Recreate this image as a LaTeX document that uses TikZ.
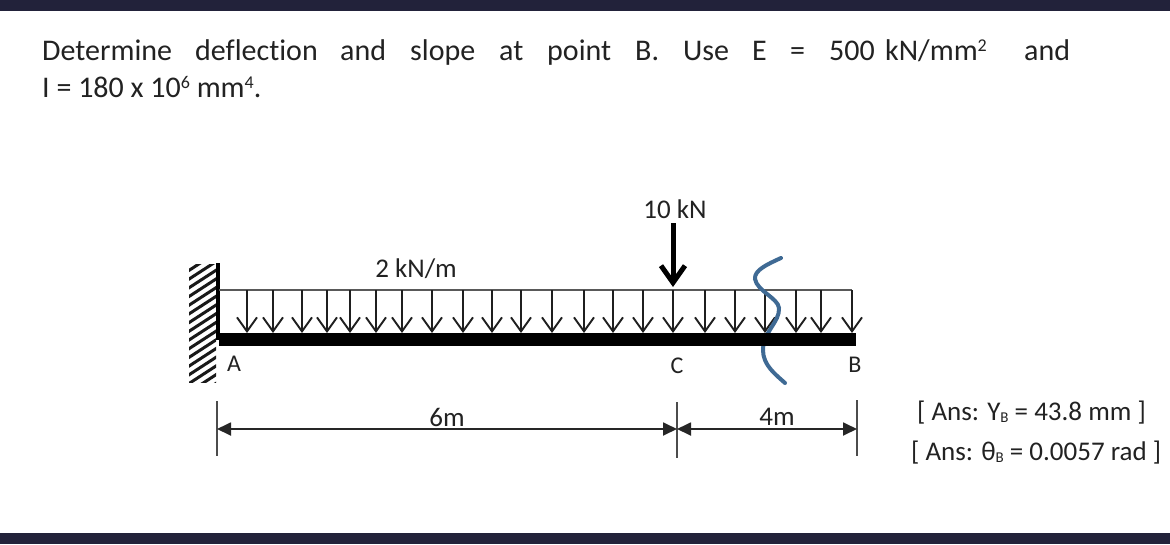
\documentclass[tikz,border=0pt]{standalone}
\usepackage{fontspec}
\setmainfont[Ligatures=NoCommon]{Carlito}
\usetikzlibrary{arrows.meta}
\definecolor{barc}{HTML}{22223A}
\definecolor{txt}{HTML}{222222}
\definecolor{cutc}{HTML}{3F6A94}
\tikzset{
 lbl/.style={inner sep=0pt,text=txt,font=\fontsize{27}{27}\selectfont},
 body/.style={inner sep=0pt,text=txt,font=\fontsize{30}{30}\selectfont},
 pts/.style={inner sep=0pt,text=txt,font=\fontsize{24}{24}\selectfont},
 udl/.style={draw=black!88,line width=1.7pt,-{Straight Barb[length=14pt,width=20pt,line width=1.9pt]}},
 dim/.style={draw=black!85,line width=1.8pt,{Triangle[length=14pt,width=13pt]}-{Triangle[length=14pt,width=13pt]}},
 ext/.style={draw=black!70,line width=1.6pt}
}
\newcommand{\sbs}[1]{{\fontsize{15}{15}\selectfont\raisebox{-2pt}{#1}}}
\newcommand{\sps}[1]{{\fontsize{18}{18}\selectfont\raisebox{9pt}{#1}}}
\begin{document}
\begin{tikzpicture}[x=1pt,y=-1pt]
\useasboundingbox (0,0) rectangle (1170,544);
\fill[white] (0,0) rectangle (1170,544);
\fill[barc] (0,0) rectangle (1170,11);
\fill[barc] (0,533) rectangle (1170,544);
% problem text
\foreach \t/\x in {Determine/42,deflection/195,and/340,slope/410,at/499,point/547,B./635,Use/683,E/752,=/790,500/829}
  \node[body,anchor=base west] at (\x,60) {\t};
\node[body,anchor=base west] (km) at (885,60) {kN/mm\sps{2}};
\node[body,anchor=base west] (andw) at (1024,60) {and};
\node[body,anchor=base west] (line2) at (42,97) {I = 180 x 10\sps{6} mm\sps{4}.};
% wall
\begin{scope}
\clip (189,264) rectangle (216,382);
\foreach \k in {0,...,15}
  \draw[line width=3pt,black!90] (185,{273+\k*8.7}) -- (222,{249+\k*8.7});
\end{scope}
\draw[line width=4pt,black] (218,263) -- (218,340);
% distributed load
\coordinate (ltl) at (219,290);
\coordinate (ltr) at (852,290);
\draw[draw=black!65,line width=1.6pt] (ltl) -- (ltr);
\foreach \x in {247,273,302,327,350,376,402,432,463,492,521,552,584,613,643,673,705,735,765,796,821,852}
  \draw[udl] (\x,290) -- (\x,333);
% cut
\draw[cutc,line width=4pt,line cap=round] (781,258) .. controls (768,264) and (754,270) .. (755,279)
  .. controls (757,291) and (778,298) .. (779,308) .. controls (780,322) and (763,332) .. (763,350)
  .. controls (763,365) and (775,374) .. (785,383);
% beam
\node[fill=black,minimum width=637pt,minimum height=13pt,inner sep=0pt,anchor=west] (beam) at (219,339.5) {};
% point load
\coordinate (pt) at (673,287);
\coordinate (pf) at (673,223);
\draw[line width=5pt,black,-{Straight Barb[length=17pt,width=24pt,line width=5pt]}] (pf) -- (pt);
\node[lbl] (lp) at (675,209) {10 kN};
\node[lbl] (lq) at (416,269) {2 kN/m};
\node[pts] (a) at (234,364) {A};
\node[pts] (c) at (677,366) {C};
\node[pts] (b) at (855,365) {B};
% dims
\coordinate (e1a) at (217,401); \coordinate (e1b) at (217,456);
\coordinate (e2a) at (677,402); \coordinate (e2b) at (677,458);
\coordinate (e3a) at (857,400); \coordinate (e3b) at (857,456);
\draw[ext] (e1a) -- (e1b);
\draw[ext] (e2a) -- (e2b);
\draw[ext] (e3a) -- (e3b);
\coordinate (d1) at (217,429); \coordinate (d2) at (677,429); \coordinate (d3) at (857,429);
\draw[dim] (d1) -- (d2);
\draw[dim] (d2) -- (d3);
\node[lbl] (l6) at (447,417) {6m};
\node[lbl] (l4) at (777,417) {4m};
% answers
\node[lbl,anchor=base west] (ans1) at (917,420) {[ Ans: Y\sbs{B} = 43.8 mm ]};
\node[lbl,anchor=base west] (ans2) at (911,460) {[ Ans: θ\sbs{B} = 0.0057 rad ]};
\end{tikzpicture}
\end{document}
